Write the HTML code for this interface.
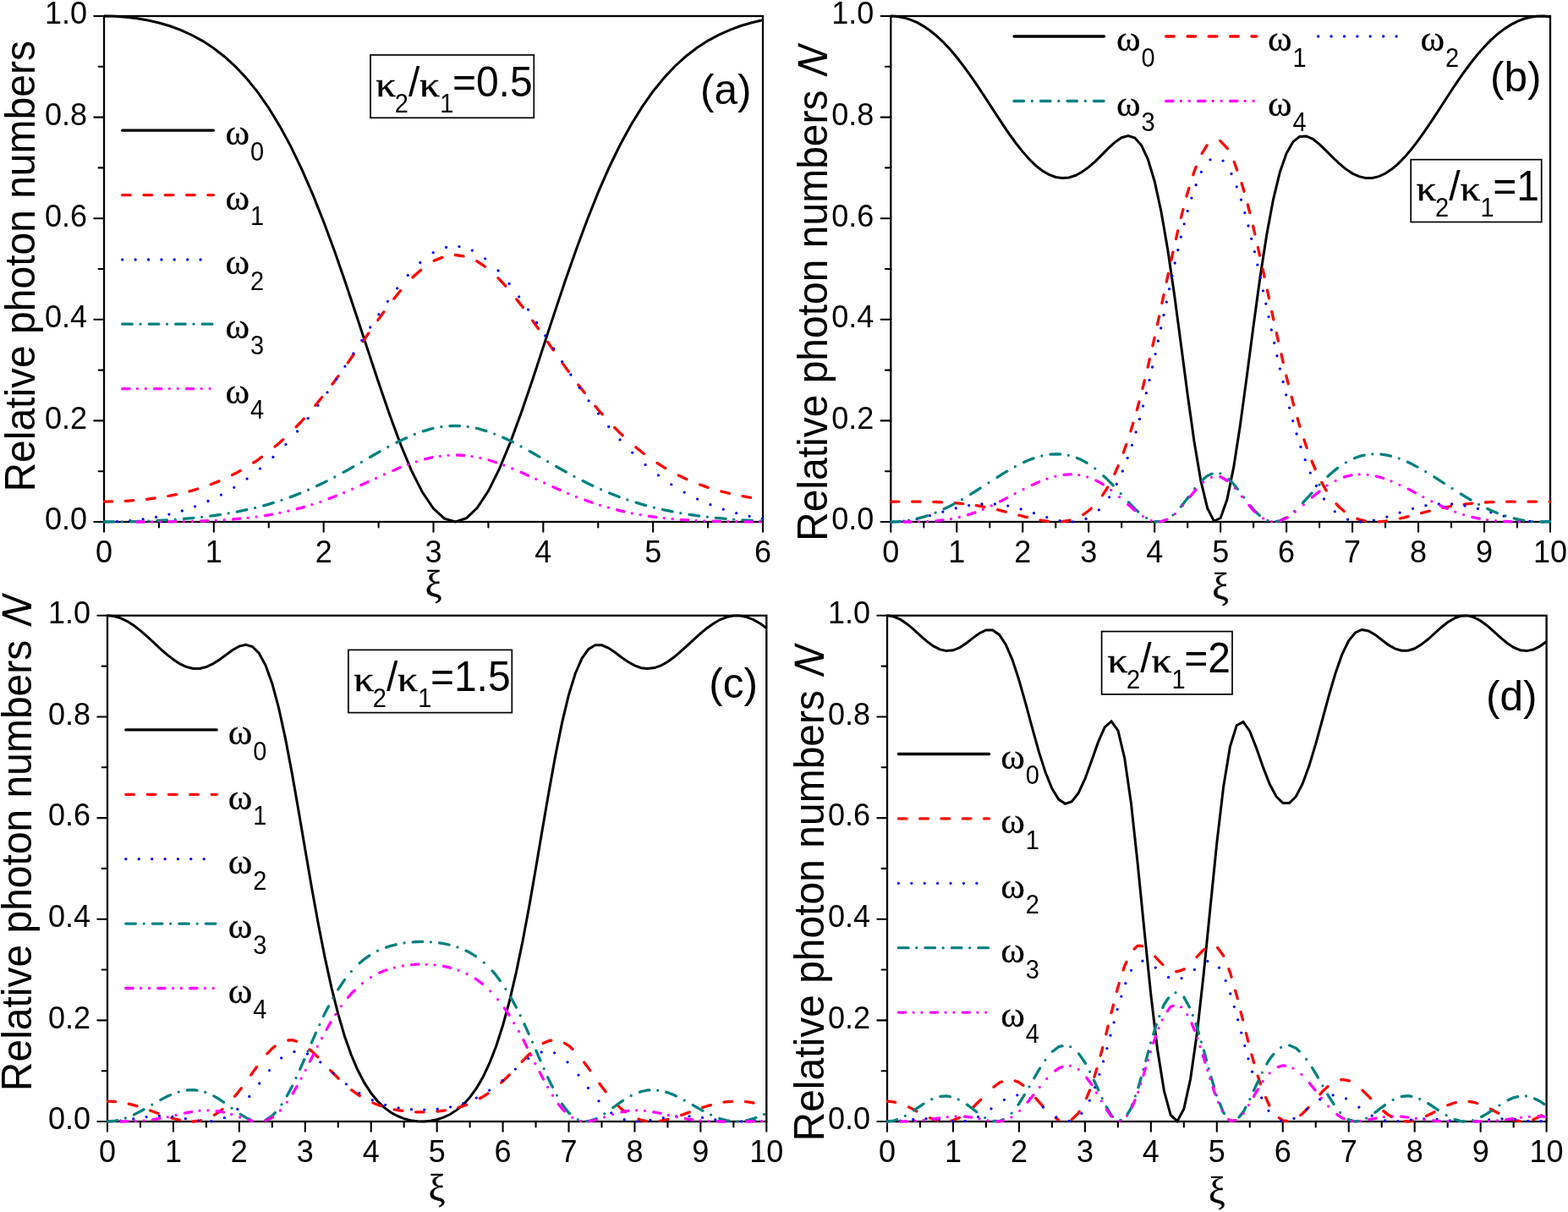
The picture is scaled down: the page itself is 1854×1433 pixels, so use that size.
<!DOCTYPE html>
<html lang="en"><head><meta charset="utf-8"><title>Relative photon numbers</title>
<style>html,body{margin:0;padding:0;background:#fff}body{width:1854px;height:1433px;overflow:hidden}svg{display:block}text{fill:#000}.t{font-family:"Liberation Sans", Arial, Helvetica, sans-serif;font-size:36px}.g{font-family:"Liberation Serif", "Times New Roman", serif}.s{font-family:"Liberation Sans", Arial, Helvetica, sans-serif;font-size:29px}.a{font-family:"Liberation Sans", Arial, Helvetica, sans-serif}.ax{stroke:#000;stroke-width:2.3;fill:none}.tk{stroke:#000;stroke-width:2.1;fill:none;stroke-linecap:round}.c{fill:none;stroke-width:3.3;stroke-linecap:round;stroke-linejoin:round}.k{stroke-width:3;stroke-linejoin:miter;stroke-linecap:butt}</style></head><body>
<svg width="1854" height="1433" viewBox="0 0 1854 1433">
<rect width="1854" height="1433" fill="#fff"/>
<g id="panel-a">
<clipPath id="cpa"><rect x="122" y="17" width="781" height="602"/></clipPath>
<rect class="ax" x="123" y="19" width="779" height="598"/>
<path class="tk" d="M123 617v11.7M187.92 617v6.4M252.83 617v11.7M317.75 617v6.4M382.67 617v11.7M447.58 617v6.4M512.5 617v11.7M577.42 617v6.4M642.33 617v11.7M707.25 617v6.4M772.17 617v11.7M837.08 617v6.4M902 617v11.7M123 617h-11.7M123 557.2h-6.4M123 497.4h-11.7M123 437.6h-6.4M123 377.8h-11.7M123 318h-6.4M123 258.2h-11.7M123 198.4h-6.4M123 138.6h-11.7M123 78.8h-6.4M123 19h-11.7"/>
<text class="t" transform="translate(123 664.7) scale(1 1.04)" text-anchor="middle">0</text>
<text class="t" transform="translate(252.83 664.7) scale(1 1.04)" text-anchor="middle">1</text>
<text class="t" transform="translate(382.67 664.7) scale(1 1.04)" text-anchor="middle">2</text>
<text class="t" transform="translate(512.5 664.7) scale(1 1.04)" text-anchor="middle">3</text>
<text class="t" transform="translate(642.33 664.7) scale(1 1.04)" text-anchor="middle">4</text>
<text class="t" transform="translate(772.17 664.7) scale(1 1.04)" text-anchor="middle">5</text>
<text class="t" transform="translate(902 664.7) scale(1 1.04)" text-anchor="middle">6</text>
<text class="t" transform="translate(103 626.3) scale(1 1.04)" text-anchor="end">0.0</text>
<text class="t" transform="translate(103 506.7) scale(1 1.04)" text-anchor="end">0.2</text>
<text class="t" transform="translate(103 387.1) scale(1 1.04)" text-anchor="end">0.4</text>
<text class="t" transform="translate(103 267.5) scale(1 1.04)" text-anchor="end">0.6</text>
<text class="t" transform="translate(103 147.9) scale(1 1.04)" text-anchor="end">0.8</text>
<text class="t" transform="translate(103 28.3) scale(1 1.04)" text-anchor="end">1.0</text>
<text class="g" x="512.5" y="705" font-size="44" text-anchor="middle" stroke="#000" stroke-width="0.4">ξ</text>
<text class="a" transform="translate(41 581.6) rotate(-90) scale(1 1.04)" font-size="48">Relative photon numbers</text>
<g clip-path="url(#cpa)">
<path class="c k" stroke="#000" d="M123 19L136 19.3L149 20.2L162 21.8L174.9 24L187.9 27L200.9 30.8L213.9 35.6L226.9 41.5L239.9 48.6L252.8 57.1L265.8 67.2L278.8 79.1L291.8 93L304.8 109.1L317.8 127.7L330.7 148.9L343.7 172.9L356.7 199.8L369.7 229.6L382.7 262.2L395.7 297.3L408.6 334.5L421.6 373.4L434.6 412.9L447.6 452.2L460.6 490.1L473.6 525.2L486.5 556.3L499.5 582.1L512.5 601.3L525.5 613.2L538.5 617L551.5 612.6L564.4 600.3L577.4 580.6L590.4 554.5L603.4 523.1L616.4 487.7L629.4 449.7L642.3 410.4L655.3 370.9L668.3 332.1L681.3 295L694.3 260L707.2 227.6L720.2 198L733.2 171.3L746.2 147.5L759.2 126.4L772.2 108L785.2 92L798.1 78.2L811.1 66.5L824.1 56.5L837.1 48.1L850.1 41.1L863.1 35.3L876 30.5L889 26.8L902 23.8"/>
<path class="c" stroke="#f00" d="M123 593.1L132.6 592.9M148.3 592.4L149 592.4L157.8 591.7M173.5 590.3L174.9 590.1L183.1 589M198.8 586.5L200.9 586.1L208.4 584.6M224 580.8L226.9 580.1L233.6 578M249.3 572.7L252.8 571.4L258.9 568.9M274.6 561.6L278.8 559.6L284.2 556.5M299.8 547L304.8 543.8L309.4 540.3M325.1 528.1L330.7 523.4L334.7 519.7M350.2 504.7L356.7 498L359.2 495.1M372.9 479.4L380.7 469.8M392.9 454.2L395.7 450.5L400 444.6M411.3 428.9L418.1 419.3M429.1 403.6L434.6 395.7L435.8 394.1M446.9 378.4L447.6 377.4L453.9 368.8M465.9 353.1L473.6 343.5L473.6 343.5M487.9 328L497.5 319.3M513.2 308.3L522.8 304.4M538.4 301.5L538.5 301.5L548 302.9M563.7 308.8L564.4 309.1L573.3 315.2M589 328.7L590.4 330.1L597.7 338.2M610.8 353.9L616.4 360.9L618.3 363.5M629.8 379.2L636.6 388.7M647.6 404.4L654.3 414M665.3 429.7L668.3 433.9L672.2 439.3M683.8 454.9L691.2 464.5M703.9 480.2L707.2 484.3L712.2 489.8M726.7 505.5L733.2 512.1L736.1 514.8M751.8 528.8L759.2 534.8L761.4 536.5M777.1 547.5L785.2 552.7L786.7 553.5M802.3 562L811.1 566.3L811.9 566.6M827.6 573L837.1 576.4L837.2 576.4M852.9 581L862.4 583.4M878.1 586.6L887.7 588.3"/>
<path class="c" stroke="#00f" d="M123 617h0M138.4 616.6h0M153.8 615.6h0M169.1 613.9h0M184.5 611.4h0M199.9 608.1h0M215.3 604h0M230.6 598.8h0M246 592.5h0M261.4 585.1h0M276.8 576.3h0M292.1 566.1h0M307.5 554.1h0M322.9 540.4h0M337.9 525.4h0M351.6 510h0M364.2 494.7h0M376 479.3h0M387 463.9h0M397.7 448.5h0M407.9 433.2h0M417.9 417.8h0M427.8 402.4h0M437.8 387h0M447.9 371.6h0M458.4 356.3h0M469.7 340.9h0M482.2 325.5h0M496.8 310.4h0M512.2 298.7h0M527.6 292.4h0M543 291.6h0M558.3 296.1h0M573.7 305.8h0M589.1 320h0M602.2 335.4h0M613.7 350.8h0M624.5 366.1h0M634.7 381.5h0M644.8 396.9h0M654.7 412.3h0M664.6 427.6h0M674.8 443h0M685.2 458.4h0M696.1 473.8h0M707.5 489.1h0M719.7 504.5h0M733 519.9h0M747.7 535.2h0M763.1 549.4h0M778.4 561.9h0M793.8 572.8h0M809.2 582.1h0M824.6 590.1h0M840 596.7h0M855.3 602.2h0M870.7 606.7h0M886.1 610.3h0M901.5 613.1h0"/>
<path class="c" stroke="#008080" d="M123 617L134.6 616.9M144.3 616.8h0M154.5 616.6L162 616.5L166 616.3M175.8 616h0M185.9 615.5L187.9 615.4L197.5 614.9M207.2 614.2h0M217.4 613.4L226.9 612.6L228.9 612.4M238.7 611.3h0M248.8 610.1L252.8 609.6L260.4 608.5M270.1 606.9h0M280.3 605.1L291.8 602.7L291.8 602.7M301.6 600.4h0M311.7 597.8L317.8 596.1L323.3 594.4M333 591.3h0M343.2 587.8L343.7 587.6L354.8 583.3M364.5 579.2h0M374.6 574.6L382.7 570.7L386.2 568.9M395.9 564h0M406.1 558.4L408.6 557.1L417.7 551.9M427.4 546.4h0M437.5 540.5L447.6 534.7L449.1 533.9M458.8 528.5h0M469 523.2L473.6 520.9L480.6 517.7M490.3 513.5h0M500.4 509.8L512 506.5M521.8 504.7h0M531.9 503.7L538.5 503.4L543.5 503.7M553.2 504.5h0M563.3 506.3L564.4 506.5L574.9 509.6M584.7 513.1h0M594.8 517.3L603.4 521.3L606.4 522.8M616.1 527.9h0M626.2 533.5L629.4 535.2L637.8 540.1M647.6 545.7h0M657.7 551.5L668.3 557.5L669.3 558M679 563.3h0M689.2 568.5L694.3 571.2L700.7 574.2M710.5 578.7h0M720.6 583L732.2 587.5M741.9 590.9h0M752.1 594.2L759.2 596.4L763.6 597.6M773.4 600.2h0M783.5 602.5L785.2 602.9L795.1 604.9M804.8 606.7h0M815 608.3L824.1 609.7L826.5 610M836.3 611.2h0M846.4 612.3L850.1 612.7L858 613.4M867.7 614.1h0M877.9 614.8L889 615.5L889.5 615.5M899.2 615.9h0"/>
<path class="c" stroke="#f0f" d="M162 617L170.3 617M179.7 616.9h0M189.6 616.9h0M199.8 616.8L200.9 616.8L208.2 616.7M217.5 616.6h0M227.4 616.4h0M237.6 616L239.9 616L246 615.7M255.4 615.3h0M265.2 614.7h0M275.5 614L278.8 613.7L283.9 613.2M293.2 612.3h0M303.1 611.1h0M313.3 609.6L317.8 608.9L321.7 608.2M331 606.4h0M340.9 604.2h0M351.2 601.7L356.7 600.3L359.6 599.4M368.9 596.6h0M378.8 593.3h0M389 589.6L395.7 587L397.4 586.3M406.7 582.5h0M416.6 578.2h0M426.9 573.6L434.6 570L435.2 569.7M444.6 565.4h0M454.5 560.9h0M464.7 556.4L473.1 552.8M482.4 549.2h0M492.3 545.8h0M502.5 542.8L510.9 540.8M520.3 539.3h0M530.1 538.3h0M540.4 538L548.8 538.5M558.1 539.6h0M568 541.5h0M578.2 544L586.6 546.7M595.9 550.1h0M605.8 554h0M616.1 558.4L616.4 558.5L624.5 562.2M633.8 566.4h0M643.7 571h0M653.9 575.7L655.3 576.3L662.3 579.4M671.6 583.4h0M681.5 587.5h0M691.8 591.3L694.3 592.2L700.1 594.2M709.5 597.3h0M719.4 600.2h0M729.6 602.9L733.2 603.8L738 604.9M747.3 606.9h0M757.2 608.7h0M767.4 610.3L772.2 611L775.8 611.4M785.2 612.6h0M795.1 613.5h0M805.3 614.3L811.1 614.8L813.7 614.9M823 615.4h0M832.9 615.8h0M843.1 616.2L850.1 616.4L851.5 616.4M860.9 616.6h0M870.7 616.7h0M881 616.8L889 616.9L889.4 616.9M898.7 617h0"/>
</g>
<path class="c" stroke="#000" d="M144.7 154.2H252.3"/>
<text class="g" transform="translate(266.5 171.4) scale(1.08 1.03)" font-size="40.3" stroke="#000" stroke-width="0.25">ω</text>
<text class="s" transform="translate(296 190) scale(1 1.07)">0</text>
<path class="c" stroke="#f00" d="M144.7 230.6L154.2 230.6M170 230.6L179.6 230.6M195.2 230.6L204.9 230.6M220.6 230.6L230.2 230.6M245.9 230.6L252.3 230.6"/>
<text class="g" transform="translate(266.5 247.8) scale(1.08 1.03)" font-size="40.3" stroke="#000" stroke-width="0.25">ω</text>
<text class="s" transform="translate(296 266.4) scale(1 1.07)">1</text>
<path class="c" stroke="#00f" d="M144.7 307h0M160.1 307h0M175.5 307h0M190.9 307h0M206.2 307h0M221.7 307h0M237.1 307h0"/>
<text class="g" transform="translate(266.5 324.2) scale(1.08 1.03)" font-size="40.3" stroke="#000" stroke-width="0.25">ω</text>
<text class="s" transform="translate(296 342.8) scale(1 1.07)">2</text>
<path class="c" stroke="#008080" d="M144.7 383.2L156.2 383.2M166 383.2h0M176.2 383.2L187.8 383.2M197.5 383.2h0M207.7 383.2L219.2 383.2M229 383.2h0M239.2 383.2L250.8 383.2"/>
<text class="g" transform="translate(266.5 400.4) scale(1.08 1.03)" font-size="40.3" stroke="#000" stroke-width="0.25">ω</text>
<text class="s" transform="translate(296 419) scale(1 1.07)">3</text>
<path class="c" stroke="#f0f" d="M144.7 459.6L153.1 459.6M162.4 459.6h0M172.3 459.6h0M182.6 459.6L190.9 459.6M200.3 459.6h0M210.2 459.6h0M220.4 459.6L228.8 459.6M238.2 459.6h0M248.1 459.6h0"/>
<text class="g" transform="translate(266.5 476.8) scale(1.08 1.03)" font-size="40.3" stroke="#000" stroke-width="0.25">ω</text>
<text class="s" transform="translate(296 495.4) scale(1 1.07)">4</text>
<rect x="438" y="65" width="193.3" height="74.3" fill="#fff" stroke="#000" stroke-width="1.7"/>
<text class="g" transform="translate(444.3 113.7) scale(1.13 1)" font-size="42.3" stroke="#000" stroke-width="0.5">κ</text>
<text class="s" transform="translate(466.8 132.6) scale(1 1.07)">2</text>
<text class="a" transform="translate(482.9 113.7) scale(1 1.04)" font-size="48">/</text>
<text class="g" transform="translate(496.1 113.7) scale(1.13 1)" font-size="42.3" stroke="#000" stroke-width="0.5">κ</text>
<text class="s" transform="translate(520.2 132.6) scale(1 1.07)">1</text>
<text class="a" transform="translate(534.9 113.7) scale(1 1.04)" font-size="48">=0.5</text>
<text class="a" transform="translate(828 122.7) scale(1 1.01)" font-size="49.5">(a)</text>
</g>
<g id="panel-b">
<clipPath id="cpb"><rect x="1052.3" y="17" width="781.7" height="602"/></clipPath>
<rect class="ax" x="1053.3" y="19" width="779.7" height="598"/>
<path class="tk" d="M1053.3 617v11.7M1092.28 617v6.4M1131.27 617v11.7M1170.25 617v6.4M1209.24 617v11.7M1248.22 617v6.4M1287.21 617v11.7M1326.19 617v6.4M1365.18 617v11.7M1404.16 617v6.4M1443.15 617v11.7M1482.13 617v6.4M1521.12 617v11.7M1560.11 617v6.4M1599.09 617v11.7M1638.07 617v6.4M1677.06 617v11.7M1716.05 617v6.4M1755.03 617v11.7M1794.01 617v6.4M1833 617v11.7M1053.3 617h-11.7M1053.3 557.2h-6.4M1053.3 497.4h-11.7M1053.3 437.6h-6.4M1053.3 377.8h-11.7M1053.3 318h-6.4M1053.3 258.2h-11.7M1053.3 198.4h-6.4M1053.3 138.6h-11.7M1053.3 78.8h-6.4M1053.3 19h-11.7"/>
<text class="t" transform="translate(1053.3 664.7) scale(1 1.04)" text-anchor="middle">0</text>
<text class="t" transform="translate(1131.27 664.7) scale(1 1.04)" text-anchor="middle">1</text>
<text class="t" transform="translate(1209.24 664.7) scale(1 1.04)" text-anchor="middle">2</text>
<text class="t" transform="translate(1287.21 664.7) scale(1 1.04)" text-anchor="middle">3</text>
<text class="t" transform="translate(1365.18 664.7) scale(1 1.04)" text-anchor="middle">4</text>
<text class="t" transform="translate(1443.15 664.7) scale(1 1.04)" text-anchor="middle">5</text>
<text class="t" transform="translate(1521.12 664.7) scale(1 1.04)" text-anchor="middle">6</text>
<text class="t" transform="translate(1599.09 664.7) scale(1 1.04)" text-anchor="middle">7</text>
<text class="t" transform="translate(1677.06 664.7) scale(1 1.04)" text-anchor="middle">8</text>
<text class="t" transform="translate(1755.03 664.7) scale(1 1.04)" text-anchor="middle">9</text>
<text class="t" transform="translate(1833 664.7) scale(1 1.04)" text-anchor="middle">10</text>
<text class="t" transform="translate(1033.3 626.3) scale(1 1.04)" text-anchor="end">0.0</text>
<text class="t" transform="translate(1033.3 506.7) scale(1 1.04)" text-anchor="end">0.2</text>
<text class="t" transform="translate(1033.3 387.1) scale(1 1.04)" text-anchor="end">0.4</text>
<text class="t" transform="translate(1033.3 267.5) scale(1 1.04)" text-anchor="end">0.6</text>
<text class="t" transform="translate(1033.3 147.9) scale(1 1.04)" text-anchor="end">0.8</text>
<text class="t" transform="translate(1033.3 28.3) scale(1 1.04)" text-anchor="end">1.0</text>
<text class="g" x="1443.15" y="708.1" font-size="44" text-anchor="middle" stroke="#000" stroke-width="0.4">ξ</text>
<text class="a" transform="translate(977.5 640) rotate(-90) scale(1 1.04)" font-size="48">Relative photon numbers</text>
<text class="a" transform="translate(977.5 94.7) rotate(-90) skewX(-21) scale(1 1.04)" font-size="48">N</text>
<g clip-path="url(#cpb)">
<path class="c k" stroke="#000" d="M1053.3 19L1061.1 19.5L1068.9 20.9L1076.7 23.3L1084.5 26.7L1092.3 31.1L1100.1 36.5L1107.9 42.9L1115.7 50.2L1123.5 58.6L1131.3 67.8L1139.1 77.9L1146.9 88.6L1154.7 99.9L1162.5 111.7L1170.3 123.6L1178.1 135.6L1185.8 147.4L1193.6 158.8L1201.4 169.5L1209.2 179.4L1217 188.2L1224.8 195.8L1232.6 202L1240.4 206.5L1248.2 209.5L1256 210.6L1263.8 209.9L1271.6 207.5L1279.4 203.3L1287.2 197.7L1295 190.8L1302.8 183.1L1310.6 175.2L1318.4 168.1L1326.2 162.7L1334 160.5L1341.8 163L1349.6 171.8L1357.4 188.6L1365.2 214.5L1373 250.3L1380.8 295.6L1388.6 348.8L1396.4 407.2L1404.2 466.5L1412 521.9L1419.8 568.2L1427.6 600.7L1435.4 616.1L1443.2 612.5L1450.9 590.5L1458.7 552.4L1466.5 502.1L1474.3 444.6L1482.1 385.1L1489.9 328.2L1497.7 277.7L1505.5 235.8L1513.3 203.7L1521.1 181.3L1528.9 167.7L1536.7 161.4L1544.5 160.9L1552.3 164.4L1560.1 170.6L1567.9 178.1L1575.7 186L1583.5 193.4L1591.3 199.9L1599.1 205.1L1606.9 208.6L1614.7 210.4L1622.5 210.4L1630.3 208.6L1638.1 205L1645.9 199.8L1653.7 193.1L1661.5 185.1L1669.3 175.8L1677.1 165.6L1684.9 154.6L1692.7 143.1L1700.5 131.2L1708.2 119.2L1716 107.3L1723.8 95.7L1731.6 84.5L1739.4 74L1747.2 64.3L1755 55.4L1762.8 47.4L1770.6 40.4L1778.4 34.4L1786.2 29.4L1794 25.3L1801.8 22.3L1809.6 20.3L1817.4 19.2L1825.2 19.1L1833 19.9"/>
<path class="c" stroke="#f00" d="M1053.3 593.1L1061.1 593.1L1062.9 593.1M1078.6 593.1L1084.5 593.1L1088.1 593.2M1103.8 593.4L1107.9 593.5L1113.4 593.8M1129.1 594.7L1131.3 594.9L1138.7 595.6M1154.3 597.7L1154.7 597.7L1162.5 599.1L1163.9 599.4M1179.6 602.7L1185.8 604.3L1189.2 605.1M1204.9 609.2L1209.2 610.3L1214.5 611.6M1230.1 615L1232.6 615.5L1239.7 616.4M1255.4 616.7L1256 616.7L1263.8 615.5L1265 615.1M1280.7 608.5L1287.2 604L1290.2 601.1M1303.6 585.7L1309.7 576.1M1317.9 560.4L1318.4 559.5L1322.1 550.8M1328.3 535.1L1331.7 525.6M1336.9 509.9L1339.8 500.3M1344.3 484.6L1346.9 475M1351 459.4L1353.3 449.8M1357.2 434.1L1357.4 433.2L1359.3 424.5M1362.9 408.8L1365.1 399.3M1368.5 383.6L1370.6 374M1373.9 358.3L1376 348.7M1379.3 333.1L1380.8 326.3L1381.4 323.5M1384.8 307.8L1386.9 298.2M1390.5 282.5L1392.7 272.9M1396.4 257.3L1398.9 247.7M1403 232L1404.2 227.8L1405.8 222.4M1410.8 206.7L1412 202.9L1414.3 197.2M1421.2 181.5L1427.1 171.9M1442.6 166.7L1443.2 166.8L1450.9 175.1L1451.3 175.8M1459.2 191.5L1462.7 201.1M1468.1 216.7L1470.9 226.3M1475.3 242L1477.7 251.6M1481.6 267.3L1482.1 269.5L1483.8 276.9M1487.4 292.5L1489.5 302.1M1493 317.8L1495 327.4M1498.4 343.1L1500.5 352.6M1503.8 368.3L1505.5 376.3L1505.9 377.9M1509.3 393.6L1511.4 403.2M1515 418.8L1517.2 428.4M1520.8 444.1L1521.1 445.4L1523.2 453.7M1527.2 469.4L1528.9 476.2L1529.7 479M1534.1 494.6L1536.7 503.7L1536.9 504.2M1542 519.9L1544.5 527.7L1545.2 529.5M1551.1 545.2L1552.3 548.3L1555.2 554.7M1562.8 570.4L1567.9 579.6L1568.2 580M1580 595.7L1583.5 599.6L1589.2 604.4M1604.9 613.3L1606.9 614.2L1614.4 616M1630.1 616.9L1630.3 616.9L1638.1 616.2L1639.7 616M1655.4 613L1661.5 611.6L1665 610.7M1680.6 606.6L1684.9 605.5L1690.2 604.1M1705.9 600.5L1708.2 600L1715.5 598.7M1731.2 596.3L1731.6 596.2L1739.4 595.3L1740.8 595.2M1756.4 594L1762.8 593.7L1766 593.6M1781.7 593.2L1786.2 593.2L1791.3 593.1M1807 593.1L1809.6 593.1L1816.5 593.1M1832.2 593.1L1833 593.1"/>
<path class="c" stroke="#00f" d="M1053.3 617h0M1068.7 616.1h0M1084.1 613.5h0M1099.4 609.6h0M1114.8 605.2h0M1130.2 600.9h0M1145.6 597.6h0M1160.9 595.9h0M1176.3 596h0M1191.7 598.1h0M1207.1 601.9h0M1222.4 606.7h0M1237.8 611.7h0M1253.2 615.6h0M1268.6 616.8h0M1284 613.4h0M1299.3 602.9h0M1311.7 587.8h0M1320.3 572.4h0M1327.3 557h0M1333.2 541.6h0M1338.4 526.3h0M1343.1 510.9h0M1347.5 495.5h0M1351.5 480.1h0M1355.4 464.7h0M1359.1 449.4h0M1362.6 434h0M1366.1 418.6h0M1369.4 403.2h0M1372.7 387.9h0M1376 372.5h0M1379.3 357.1h0M1382.6 341.7h0M1385.9 326.4h0M1389.2 311h0M1392.8 295.6h0M1396.3 280.2h0M1400.2 264.8h0M1404.2 249.5h0M1408.9 234.1h0M1414.1 218.7h0M1420.4 203.3h0M1431 188.8h0M1446.1 190.1h0M1456 205.5h0M1462.2 220.8h0M1467.5 236.2h0M1471.8 251.6h0M1476 267h0M1479.7 282.3h0M1483.4 297.7h0M1486.8 313.1h0M1490.2 328.5h0M1493.5 343.8h0M1496.8 359.2h0M1500.1 374.6h0M1503.3 390h0M1506.7 405.4h0M1510 420.7h0M1513.4 436.1h0M1517.1 451.5h0M1520.7 466.9h0M1524.6 482.2h0M1528.6 497.6h0M1533.1 513h0M1537.9 528.4h0M1543.2 543.7h0M1549.3 559.1h0M1556.4 574.5h0M1565.4 589.9h0M1578.3 604.8h0M1593.6 614.2h0M1609 616.9h0M1624.4 615.2h0M1639.8 611.1h0M1655.1 606.1h0M1670.5 601.3h0M1685.9 597.7h0M1701.3 595.9h0M1716.6 596h0M1732 598h0M1747.4 601.4h0M1762.8 605.8h0M1778.2 610.2h0M1793.5 613.9h0M1808.9 616.3h0M1824.3 617h0"/>
<path class="c" stroke="#008080" d="M1053.3 617L1061.1 616.8L1064.9 616.4M1074.6 615.2h0M1084.8 613.1L1092.3 611.1L1096.3 609.7M1106.1 606.2h0M1116.2 601.8L1123.5 598.2L1127.8 595.9M1137.5 590.5h0M1147.7 584.4L1154.7 580L1159.2 577.1M1169 570.8h0M1179.1 564.3L1185.8 560.1L1190.7 557.2M1200.4 551.7h0M1210.6 546.6L1217 543.8L1222.1 541.9M1231.9 539h0M1242 537.2L1248.2 536.8L1253.6 537M1263.3 538.3h0M1273.5 541.5L1279.4 544.1L1285.1 547.3M1294.8 553.9h0M1304.9 562.7L1310.6 568.1L1316.3 574M1325.2 583.7h0M1334.5 593.8L1341.8 601.4L1345.8 605M1355.6 612.4h0M1365.7 616.6L1373 616.7L1377.3 615M1387 608.8h0M1396.4 599L1404.2 588.9L1405.3 587.4M1412.7 577.7h0M1421.5 567.8L1427.6 562.5L1433 560.2M1442.8 559.9h0M1452.9 566.6L1458.7 572.4L1463.3 578.2M1470.7 587.9h0M1478.6 598L1482.1 602.4L1489.3 609.5M1499 615.4h0M1509.2 616.4L1513.3 615.8L1520.8 612.1M1530.5 604.4h0M1540.4 594.6L1544.5 590.1L1551 583M1560 573.2h0M1570 563.3L1575.7 558.1L1581.6 553.4M1591.3 546.8h0M1601.5 541.8L1606.9 539.7L1613 538.2M1622.8 536.9h0M1632.9 537.2L1638.1 537.8L1644.5 539.2M1654.2 542.1h0M1664.4 546.3L1669.3 548.6L1675.9 552.1M1685.7 557.7h0M1695.8 563.9L1700.5 566.8L1707.4 571.3M1717.1 577.6h0M1727.3 584L1731.6 586.7L1738.9 591M1748.6 596.4h0M1758.7 601.4L1762.8 603.4L1770.3 606.5M1780 610h0M1790.2 612.9L1794 613.9L1801.8 615.3M1811.5 616.5h0M1821.6 616.9L1825.2 617L1833 616.5"/>
<path class="c" stroke="#f0f" d="M1068.9 617L1076.7 617L1077.3 616.9M1086.6 616.8h0M1096.5 616.5h0M1106.7 615.8L1107.9 615.7L1115.1 614.9M1124.5 613.5h0M1134.3 611.5h0M1144.6 608.7L1146.9 608L1153 605.9M1162.3 602.3h0M1172.2 597.9h0M1182.4 592.9L1185.8 591.2L1190.8 588.6M1200.1 583.7h0M1210 578.5h0M1220.3 573.5L1224.8 571.4L1228.7 569.8M1238 566.2h0M1247.9 563.2h0M1258.1 561.4L1263.8 560.9L1266.5 560.9M1275.8 561.7h0M1285.7 563.9h0M1296 568.1L1302.8 571.8L1304.3 572.9M1313.7 579.5h0M1323.6 587.6h0M1333.8 596.6L1334 596.7L1341.8 603.5L1342.2 603.8M1351.5 610.6h0M1361.4 615.4h0M1371.6 616.7L1373 616.7L1380 614.2M1389.4 607.6h0M1398.6 597.7h0M1407 587.5L1412 581.3L1413.9 579.1M1422.6 570.2h0M1432.5 564.3h0M1442.7 563.8L1443.2 563.8L1450.9 568.2L1451.1 568.4M1460.2 577.3h0M1468.4 587.2h0M1476.8 597.4L1482.1 603.6L1484.3 605.6M1493.7 612.9h0M1503.5 616.6h0M1513.8 615.7L1521.1 612.5L1522.2 611.8M1531.5 605.2h0M1541.4 596.9h0M1551.6 587.9L1552.3 587.3L1560 580.9M1569.3 574.1h0M1579.2 568.4h0M1589.5 564.1L1591.3 563.4L1597.9 561.9M1607.2 560.9h0M1617.1 561.3h0M1627.3 563.1L1630.3 563.8L1635.7 565.5M1645 568.9h0M1654.9 573.3h0M1665.2 578.3L1669.3 580.4L1673.5 582.7M1682.9 587.6h0M1692.8 592.8h0M1703 597.7L1708.2 600.2L1711.4 601.5M1720.7 605.2h0M1730.6 608.6h0M1740.8 611.4L1747.2 612.8L1749.2 613.2M1758.6 614.7h0M1768.5 615.7h0M1778.7 616.5L1786.2 616.7L1787.1 616.8M1796.4 616.9h0"/>
</g>
<path class="c" stroke="#000" d="M1199 43H1305.6"/>
<text class="g" transform="translate(1320 60.2) scale(1.08 1.03)" font-size="40.3" stroke="#000" stroke-width="0.25">ω</text>
<text class="s" transform="translate(1349.5 78.8) scale(1 1.07)">0</text>
<path class="c" stroke="#f00" d="M1378.7 43L1388.2 43M1404 43L1413.6 43M1429.2 43L1438.9 43M1454.6 43L1464.2 43M1479.9 43L1485.8 43"/>
<text class="g" transform="translate(1499 60.2) scale(1.08 1.03)" font-size="40.3" stroke="#000" stroke-width="0.25">ω</text>
<text class="s" transform="translate(1528.5 78.8) scale(1 1.07)">1</text>
<path class="c" stroke="#00f" d="M1558.7 43h0M1574.1 43h0M1589.5 43h0M1604.9 43h0M1620.2 43h0M1635.7 43h0M1651.1 43h0"/>
<text class="g" transform="translate(1679.5 60.2) scale(1.08 1.03)" font-size="40.3" stroke="#000" stroke-width="0.25">ω</text>
<text class="s" transform="translate(1709 78.8) scale(1 1.07)">2</text>
<path class="c" stroke="#008080" d="M1199 119.5L1210.5 119.5M1220.3 119.5h0M1230.5 119.5L1242 119.5M1251.8 119.5h0M1262 119.5L1273.5 119.5M1283.3 119.5h0M1293.5 119.5L1305 119.5"/>
<text class="g" transform="translate(1320 136.7) scale(1.08 1.03)" font-size="40.3" stroke="#000" stroke-width="0.25">ω</text>
<text class="s" transform="translate(1349.5 155.3) scale(1 1.07)">3</text>
<path class="c" stroke="#f0f" d="M1378.7 119.5L1387.1 119.5M1396.4 119.5h0M1406.3 119.5h0M1416.6 119.5L1425 119.5M1434.3 119.5h0M1444.2 119.5h0M1454.5 119.5L1462.9 119.5M1472.2 119.5h0M1482.1 119.5h0"/>
<text class="g" transform="translate(1499 136.7) scale(1.08 1.03)" font-size="40.3" stroke="#000" stroke-width="0.25">ω</text>
<text class="s" transform="translate(1528.5 155.3) scale(1 1.07)">4</text>
<rect x="1668.2" y="188.7" width="154.5" height="73.8" fill="#fff" stroke="#000" stroke-width="1.7"/>
<text class="g" transform="translate(1674.6 237) scale(1.13 1)" font-size="42.3" stroke="#000" stroke-width="0.5">κ</text>
<text class="s" transform="translate(1697.1 255.9) scale(1 1.07)">2</text>
<text class="a" transform="translate(1713.2 237) scale(1 1.04)" font-size="48">/</text>
<text class="g" transform="translate(1726.4 237) scale(1.13 1)" font-size="42.3" stroke="#000" stroke-width="0.5">κ</text>
<text class="s" transform="translate(1750.5 255.9) scale(1 1.07)">1</text>
<text class="a" transform="translate(1765.2 237) scale(1 1.04)" font-size="48">=1</text>
<text class="a" transform="translate(1762.1 107.6) scale(1 1.01)" font-size="49.5">(b)</text>
</g>
<g id="panel-c">
<clipPath id="cpc"><rect x="126" y="725.8" width="781.3" height="602.2"/></clipPath>
<rect class="ax" x="127" y="727.8" width="779.3" height="598.2"/>
<path class="tk" d="M127 1326v11.7M165.97 1326v6.4M204.93 1326v11.7M243.89 1326v6.4M282.86 1326v11.7M321.82 1326v6.4M360.79 1326v11.7M399.75 1326v6.4M438.72 1326v11.7M477.68 1326v6.4M516.65 1326v11.7M555.62 1326v6.4M594.58 1326v11.7M633.54 1326v6.4M672.51 1326v11.7M711.47 1326v6.4M750.44 1326v11.7M789.4 1326v6.4M828.37 1326v11.7M867.33 1326v6.4M906.3 1326v11.7M127 1326h-11.7M127 1266.18h-6.4M127 1206.36h-11.7M127 1146.54h-6.4M127 1086.72h-11.7M127 1026.9h-6.4M127 967.08h-11.7M127 907.26h-6.4M127 847.44h-11.7M127 787.62h-6.4M127 727.8h-11.7"/>
<text class="t" transform="translate(127 1373.7) scale(1 1.04)" text-anchor="middle">0</text>
<text class="t" transform="translate(204.93 1373.7) scale(1 1.04)" text-anchor="middle">1</text>
<text class="t" transform="translate(282.86 1373.7) scale(1 1.04)" text-anchor="middle">2</text>
<text class="t" transform="translate(360.79 1373.7) scale(1 1.04)" text-anchor="middle">3</text>
<text class="t" transform="translate(438.72 1373.7) scale(1 1.04)" text-anchor="middle">4</text>
<text class="t" transform="translate(516.65 1373.7) scale(1 1.04)" text-anchor="middle">5</text>
<text class="t" transform="translate(594.58 1373.7) scale(1 1.04)" text-anchor="middle">6</text>
<text class="t" transform="translate(672.51 1373.7) scale(1 1.04)" text-anchor="middle">7</text>
<text class="t" transform="translate(750.44 1373.7) scale(1 1.04)" text-anchor="middle">8</text>
<text class="t" transform="translate(828.37 1373.7) scale(1 1.04)" text-anchor="middle">9</text>
<text class="t" transform="translate(906.3 1373.7) scale(1 1.04)" text-anchor="middle">10</text>
<text class="t" transform="translate(107 1335.3) scale(1 1.04)" text-anchor="end">0.0</text>
<text class="t" transform="translate(107 1215.66) scale(1 1.04)" text-anchor="end">0.2</text>
<text class="t" transform="translate(107 1096.02) scale(1 1.04)" text-anchor="end">0.4</text>
<text class="t" transform="translate(107 976.38) scale(1 1.04)" text-anchor="end">0.6</text>
<text class="t" transform="translate(107 856.74) scale(1 1.04)" text-anchor="end">0.8</text>
<text class="t" transform="translate(107 737.1) scale(1 1.04)" text-anchor="end">1.0</text>
<text class="g" x="516.65" y="1418.8" font-size="44" text-anchor="middle" stroke="#000" stroke-width="0.4">ξ</text>
<text class="a" transform="translate(37.3 1290.2) rotate(-90) scale(1 1.04)" font-size="48">Relative photon numbers</text>
<text class="a" transform="translate(37.3 744.9) rotate(-90) skewX(-21) scale(1 1.04)" font-size="48">N</text>
<g clip-path="url(#cpc)">
<path class="c k" stroke="#000" d="M127 727.8L134.8 728.6L142.6 730.9L150.4 734.6L158.2 739.6L166 745.6L173.8 752.3L181.6 759.5L189.3 766.8L197.1 773.7L204.9 779.8L212.7 784.9L220.5 788.5L228.3 790.4L236.1 790.4L243.9 788.5L251.7 784.9L259.5 779.9L267.3 774.2L275.1 768.5L282.9 764.1L290.7 762.3L298.4 764.5L306.2 772.2L314 786.5L321.8 808.2L329.6 837.2L337.4 872.9L345.2 913.9L353 958.4L360.8 1004.3L368.6 1049.7L376.4 1092.8L384.2 1132.4L392 1167.9L399.8 1198.8L407.5 1225.2L415.3 1247.3L423.1 1265.5L430.9 1280.4L438.7 1292.4L446.5 1302L454.3 1309.4L462.1 1315.2L469.9 1319.5L477.7 1322.6L485.5 1324.7L493.3 1325.8L501.1 1326L508.9 1325.3L516.6 1323.7L524.4 1321.2L532.2 1317.5L540 1312.4L547.8 1305.9L555.6 1297.4L563.4 1286.6L571.2 1273.2L579 1256.7L586.8 1236.5L594.6 1212.2L602.4 1183.6L610.2 1150.4L618 1112.7L625.8 1071.2L633.5 1026.7L641.3 980.8L649.1 935.4L656.9 892.4L664.7 853.9L672.5 821.5L680.3 796.2L688.1 778.3L695.9 767.5L703.7 762.8L711.5 762.8L719.3 766.1L727.1 771.3L734.9 777.2L742.6 782.6L750.4 786.9L758.2 789.7L766 790.6L773.8 789.6L781.6 786.8L789.4 782.5L797.2 776.8L805 770.2L812.8 763.1L820.6 755.8L828.4 748.8L836.2 742.4L844 736.9L851.7 732.5L859.5 729.5L867.3 728L875.1 728L882.9 729.6L890.7 732.6L898.5 737L906.3 742.5"/>
<path class="c" stroke="#f00" d="M127 1302.1L134.8 1302.4L136.6 1302.6M152.3 1305.2L158.2 1306.6L161.8 1307.7M177.5 1313L181.6 1314.5L187.1 1316.5M202.8 1321.9L204.9 1322.5L212.4 1324.4M228 1326L228.3 1326L236.1 1325.2L237.6 1324.7M253.3 1318.4L259.5 1314.3L262.9 1311.4M277.6 1296.3L282.9 1289.9L285.2 1286.7M296.6 1271.1L298.4 1268.5L303.5 1261.5M315.9 1245.8L321.8 1239.6L325.2 1237M340.8 1230L345.2 1229.7L350.4 1231.2M366.1 1240.9L368.6 1242.9L375.7 1249.8M390.7 1265.5L392 1266.9L399.8 1274.7L400.1 1275M415.8 1288.8L423.1 1294.1L425.3 1295.5M441 1303.9L446.5 1306.2L450.6 1307.6M466.3 1311.8L469.9 1312.5L475.9 1313.4M491.5 1314.8L493.3 1314.8L501.1 1314.9L501.1 1314.9M516.8 1314.1L524.4 1313.1L526.4 1312.8M542.1 1309.3L547.8 1307.6L551.7 1306.2M567.3 1298.8L571.2 1296.6L576.9 1292.8M592.6 1280.1L594.6 1278.4L602.2 1271M617.2 1255.3L618 1254.4L625.8 1246.5L626.6 1245.8M642.2 1233.5L649.1 1230.5L651.8 1230.2M667.5 1233.3L672.5 1236.3L677.1 1240.5M690.6 1256L695.9 1263.1L697.6 1265.6M708.9 1281.2L711.5 1284.8L716.1 1290.8M729.8 1306.4L734.9 1311.2L739.4 1314.7M755 1323.1L758.2 1324.3L764.6 1325.5M780.3 1325.3L781.6 1325.2L789.4 1323.6L789.9 1323.4M805.6 1318.5L812.8 1315.9L815.2 1315M830.8 1309.4L836.2 1307.7L840.4 1306.6M856.1 1303.2L859.5 1302.7L865.7 1302.3M881.4 1302.6L882.9 1302.7L890.7 1303.9L890.9 1304"/>
<path class="c" stroke="#00f" d="M127 1326h0M142.4 1325.1h0M157.8 1322.9h0M173.1 1320.6h0M188.5 1319.5h0M203.9 1320.3h0M219.3 1322.7h0M234.6 1325.2h0M250 1325.7h0M265.4 1321.7h0M280.8 1311.4h0M294.8 1296.4h0M306.7 1281h0M318.5 1265.6h0M332.7 1250.9h0M348 1243.5h0M363.4 1246h0M378.8 1255.8h0M394.2 1268.9h0M409.5 1281.8h0M424.9 1292.5h0M440.3 1300.7h0M455.7 1306.3h0M471.1 1309.8h0M486.4 1311.7h0M501.8 1312.1h0M517.2 1311.2h0M532.6 1308.8h0M547.9 1304.6h0M563.3 1298.1h0M578.7 1289.1h0M594.1 1277.4h0M609.4 1264.1h0M624.8 1251.6h0M640.2 1243.9h0M655.6 1244.8h0M671 1255.8h0M684 1271.1h0M695.5 1286.4h0M708 1301.8h0M722.8 1315.8h0M738.2 1323.7h0M753.6 1325.9h0M769 1324.4h0M784.3 1321.7h0M799.7 1319.9h0M815.1 1319.8h0M830.5 1321.4h0M845.8 1323.8h0M861.2 1325.6h0M876.6 1325.8h0M892 1324.4h0"/>
<path class="c" stroke="#008080" d="M127 1326L134.8 1325.5L138.6 1324.7M148.3 1322h0M158.5 1317.9L166 1314L170 1311.7M179.8 1306.1h0M189.9 1300.4L197.1 1296.6L201.5 1294.7M211.2 1291.1h0M221.4 1289L228.3 1288.6L232.9 1289.2M242.7 1291.4h0M252.8 1295.9L259.5 1299.8L264.4 1303.2M274.1 1310.2h0M284.3 1317.4L290.7 1321.4L295.8 1323.7M314 1324.3L321.8 1319.4L325.3 1315.6M333 1305.9h0M339.3 1295.7L345.2 1284.8L345.5 1284.1M350.1 1274.4h0M354.7 1264.3L359.8 1252.7M364 1243h0M368.4 1232.8L368.6 1232.3L373.5 1221.2M377.9 1211.5h0M382.6 1201.4L384.2 1198.1L388.5 1189.8M393.7 1180.1h0M399.7 1169.9L399.8 1169.8L407.5 1158.3L407.6 1158.3M415.4 1148.6h0M425.2 1138.8L430.9 1133.9L436.8 1129.9M446.5 1124.2h0M456.7 1120.1L462.1 1118.3L468.2 1116.8M478 1114.9h0M488.1 1113.8L493.3 1113.5L499.7 1113.4M509.4 1113.8h0M519.6 1114.9L524.4 1115.6L531.1 1117M540.9 1119.9h0M551 1124.1L555.6 1126.3L562.6 1130.6M572.3 1138.2h0M582 1147.9L586.8 1153.4L591.3 1159.5M597.9 1169.3h0M604 1179.4L610.2 1190.6L610.4 1191M615.2 1200.7h0M620 1210.8L625.2 1222.4M629.5 1232.2h0M633.9 1242.3L638.9 1253.9M643.2 1263.6h0M647.7 1273.8L649.1 1276.9L653.4 1285.3M658.5 1295.1h0M664.5 1305.2L664.7 1305.6L672.5 1315.7L673.6 1316.6M683.3 1323.6h0M693.5 1325.7L695.9 1325.7L703.7 1323.3L705 1322.6M714.8 1316.8h0M724.9 1309.6L727.1 1308L734.9 1302.4L736.5 1301.3M746.2 1295.5h0M756.4 1291.2L758.2 1290.5L766 1288.9L768 1288.9M777.7 1289.2h0M787.8 1291.3L789.4 1291.8L797.2 1294.8L799.4 1295.9M809.1 1300.9h0M819.3 1306.7L820.6 1307.4L828.4 1311.9L830.9 1313.3M840.6 1318.2h0M850.7 1322.4L851.7 1322.8L859.5 1324.8L862.3 1325.2M872 1325.9h0M882.2 1324.9L882.9 1324.8L890.7 1322.7L893.8 1321.5M903.5 1317.4h0"/>
<path class="c" stroke="#f0f" d="M142.6 1326L150.4 1325.9L151 1325.9M160.3 1325.6h0M170.2 1324.9h0M180.4 1323.8L181.6 1323.7L188.8 1322.5M198.2 1320.7h0M208 1318.5h0M218.3 1316.2L220.5 1315.7L226.7 1314.6M236 1313.2h0M245.9 1312.8h0M256.1 1313.6L259.5 1314L264.5 1315.1M273.8 1317.7h0M283.7 1321h0M294 1324.1L298.4 1325.3M314 1324.9L321.8 1321.4L322.4 1320.9M331.5 1313h0M339.5 1303.1h0M346.2 1292.9L351 1284.5M356.1 1275.2h0M361.2 1265.3h0M366.4 1255.1L368.6 1250.7L370.6 1246.7M375.3 1237.3h0M380.5 1227.5h0M386.1 1217.2L390.9 1208.8M396.7 1199.5h0M403.5 1189.6h0M411.5 1179.4L415.3 1174.9L419.2 1171M428.5 1162.7h0M438.4 1155.6h0M448.7 1150.2L454.3 1147.8L457 1146.9M466.4 1144.1h0M476.3 1142h0M486.5 1140.7L493.3 1140.2L494.9 1140.2M504.2 1140.3h0M514.1 1140.9h0M524.3 1142.4L524.4 1142.4L532.2 1144.1L532.7 1144.3M542.1 1147.2h0M552 1151.4h0M562.2 1157.2L563.4 1158L570.6 1163.3M579.8 1171.8h0M588.6 1181.7h0M596.4 1191.9L602.1 1200.3M607.7 1209.7h0M613.4 1219.5h0M618.9 1229.8L623.2 1238.2M628 1247.5h0M632.9 1257.4h0M638.1 1267.6L641.3 1273.9L642.5 1276M647.6 1285.3h0M653.5 1295.2h0M660.4 1305.5L664.7 1311.1L667.5 1313.8M676.8 1321.3h0M686.7 1325.3h0M696.9 1325.6L703.7 1324.4L705.3 1323.9M714.6 1320.9h0M724.5 1317.6h0M734.8 1314.8L734.9 1314.8L742.6 1313.4L743.1 1313.4M752.5 1312.8h0M762.4 1313.3h0M772.6 1314.8L773.8 1315L781 1316.4M790.3 1318.5h0M800.2 1320.7h0M810.4 1322.7L812.8 1323.1L818.8 1324M828.2 1325h0M838.1 1325.6h0M848.3 1325.9L851.7 1326L856.7 1326M882.9 1326L890.7 1325.9L891.3 1325.9M900.6 1325.7h0"/>
</g>
<path class="c" stroke="#000" d="M148.8 862.9H256.2"/>
<text class="g" transform="translate(269.7 880.1) scale(1.08 1.03)" font-size="40.3" stroke="#000" stroke-width="0.25">ω</text>
<text class="s" transform="translate(299.2 898.7) scale(1 1.07)">0</text>
<path class="c" stroke="#f00" d="M148.8 939.3L158.4 939.3M174.2 939.3L183.8 939.3M199.4 939.3L209.1 939.3M224.8 939.3L234.3 939.3M250.1 939.3L256.2 939.3"/>
<text class="g" transform="translate(269.7 956.5) scale(1.08 1.03)" font-size="40.3" stroke="#000" stroke-width="0.25">ω</text>
<text class="s" transform="translate(299.2 975.1) scale(1 1.07)">1</text>
<path class="c" stroke="#00f" d="M148.8 1015.7h0M164.2 1015.7h0M179.7 1015.7h0M195.1 1015.7h0M210.4 1015.7h0M225.8 1015.7h0M241.2 1015.7h0"/>
<text class="g" transform="translate(269.7 1032.9) scale(1.08 1.03)" font-size="40.3" stroke="#000" stroke-width="0.25">ω</text>
<text class="s" transform="translate(299.2 1051.5) scale(1 1.07)">2</text>
<path class="c" stroke="#008080" d="M148.8 1092.1L160.4 1092.1M170.2 1092.1h0M180.3 1092.1L191.9 1092.1M201.7 1092.1h0M211.8 1092.1L223.4 1092.1M233.2 1092.1h0M243.3 1092.1L254.9 1092.1"/>
<text class="g" transform="translate(269.7 1109.3) scale(1.08 1.03)" font-size="40.3" stroke="#000" stroke-width="0.25">ω</text>
<text class="s" transform="translate(299.2 1127.9) scale(1 1.07)">3</text>
<path class="c" stroke="#f0f" d="M148.8 1168.5L157.2 1168.5M166.6 1168.5h0M176.5 1168.5h0M186.8 1168.5L195.1 1168.5M204.5 1168.5h0M214.4 1168.5h0M224.6 1168.5L233 1168.5M242.4 1168.5h0M252.3 1168.5h0"/>
<text class="g" transform="translate(269.7 1185.7) scale(1.08 1.03)" font-size="40.3" stroke="#000" stroke-width="0.25">ω</text>
<text class="s" transform="translate(299.2 1204.3) scale(1 1.07)">4</text>
<rect x="411.9" y="768.4" width="193.4" height="74.2" fill="#fff" stroke="#000" stroke-width="1.7"/>
<text class="g" transform="translate(418.3 817.2) scale(1.13 1)" font-size="42.3" stroke="#000" stroke-width="0.5">κ</text>
<text class="s" transform="translate(440.8 836.1) scale(1 1.07)">2</text>
<text class="a" transform="translate(456.9 817.2) scale(1 1.04)" font-size="48">/</text>
<text class="g" transform="translate(470.1 817.2) scale(1.13 1)" font-size="42.3" stroke="#000" stroke-width="0.5">κ</text>
<text class="s" transform="translate(494.2 836.1) scale(1 1.07)">1</text>
<text class="a" transform="translate(508.9 817.2) scale(1 1.04)" font-size="48">=1.5</text>
<text class="a" transform="translate(838.2 825) scale(1 1.01)" font-size="49.5">(c)</text>
</g>
<g id="panel-d">
<clipPath id="cpd"><rect x="1048" y="725.8" width="781.6" height="602.2"/></clipPath>
<rect class="ax" x="1049" y="727.8" width="779.6" height="598.2"/>
<path class="tk" d="M1049 1326v11.7M1087.98 1326v6.4M1126.96 1326v11.7M1165.94 1326v6.4M1204.92 1326v11.7M1243.9 1326v6.4M1282.88 1326v11.7M1321.86 1326v6.4M1360.84 1326v11.7M1399.82 1326v6.4M1438.8 1326v11.7M1477.78 1326v6.4M1516.76 1326v11.7M1555.74 1326v6.4M1594.72 1326v11.7M1633.7 1326v6.4M1672.68 1326v11.7M1711.66 1326v6.4M1750.64 1326v11.7M1789.62 1326v6.4M1828.6 1326v11.7M1049 1326h-11.7M1049 1266.18h-6.4M1049 1206.36h-11.7M1049 1146.54h-6.4M1049 1086.72h-11.7M1049 1026.9h-6.4M1049 967.08h-11.7M1049 907.26h-6.4M1049 847.44h-11.7M1049 787.62h-6.4M1049 727.8h-11.7"/>
<text class="t" transform="translate(1049 1373.7) scale(1 1.04)" text-anchor="middle">0</text>
<text class="t" transform="translate(1126.96 1373.7) scale(1 1.04)" text-anchor="middle">1</text>
<text class="t" transform="translate(1204.92 1373.7) scale(1 1.04)" text-anchor="middle">2</text>
<text class="t" transform="translate(1282.88 1373.7) scale(1 1.04)" text-anchor="middle">3</text>
<text class="t" transform="translate(1360.84 1373.7) scale(1 1.04)" text-anchor="middle">4</text>
<text class="t" transform="translate(1438.8 1373.7) scale(1 1.04)" text-anchor="middle">5</text>
<text class="t" transform="translate(1516.76 1373.7) scale(1 1.04)" text-anchor="middle">6</text>
<text class="t" transform="translate(1594.72 1373.7) scale(1 1.04)" text-anchor="middle">7</text>
<text class="t" transform="translate(1672.68 1373.7) scale(1 1.04)" text-anchor="middle">8</text>
<text class="t" transform="translate(1750.64 1373.7) scale(1 1.04)" text-anchor="middle">9</text>
<text class="t" transform="translate(1828.6 1373.7) scale(1 1.04)" text-anchor="middle">10</text>
<text class="t" transform="translate(1029 1335.3) scale(1 1.04)" text-anchor="end">0.0</text>
<text class="t" transform="translate(1029 1215.66) scale(1 1.04)" text-anchor="end">0.2</text>
<text class="t" transform="translate(1029 1096.02) scale(1 1.04)" text-anchor="end">0.4</text>
<text class="t" transform="translate(1029 976.38) scale(1 1.04)" text-anchor="end">0.6</text>
<text class="t" transform="translate(1029 856.74) scale(1 1.04)" text-anchor="end">0.8</text>
<text class="t" transform="translate(1029 737.1) scale(1 1.04)" text-anchor="end">1.0</text>
<text class="g" x="1438.8" y="1422" font-size="44" text-anchor="middle" stroke="#000" stroke-width="0.4">ξ</text>
<text class="a" transform="translate(973.6 1349.5) rotate(-90) scale(1 1.04)" font-size="48">Relative photon numbers</text>
<text class="a" transform="translate(973.6 804.2) rotate(-90) skewX(-21) scale(1 1.04)" font-size="48">N</text>
<g clip-path="url(#cpd)">
<path class="c k" stroke="#000" d="M1049 727.8L1056.8 729L1064.6 732.4L1072.4 737.7L1080.2 744.2L1088 751.3L1095.8 758.1L1103.6 763.9L1111.4 767.9L1119.2 769.6L1127 768.8L1134.8 765.6L1142.6 760.5L1150.3 754.4L1158.1 748.7L1165.9 745L1173.7 745L1181.5 750.4L1189.3 762.2L1197.1 780.4L1204.9 804.1L1212.7 831.7L1220.5 860.7L1228.3 888.6L1236.1 913.1L1243.9 932.4L1251.7 945.1L1259.5 950.3L1267.3 947.7L1275.1 937.6L1282.9 920.9L1290.7 899.6L1298.5 877.4L1306.3 859.7L1314.1 852.9L1321.9 863.6L1329.7 896.2L1337.5 950.4L1345.2 1021.3L1353 1099.7L1360.8 1175.9L1368.6 1241.1L1376.4 1289.8L1384.2 1318.4L1392 1325.7L1399.8 1311.3L1407.6 1275.8L1415.4 1221.3L1423.2 1151.6L1431 1073.7L1438.8 996.6L1446.6 930.4L1454.4 882.9L1462.2 857.8L1470 853.5L1477.8 864.6L1485.6 884.6L1493.4 906.9L1501.2 927L1509 941.7L1516.8 949.4L1524.6 949.4L1532.4 941.7L1540.1 926.7L1547.9 905.6L1555.7 879.7L1563.5 851.2L1571.3 822.4L1579.1 795.8L1586.9 773.7L1594.7 757.6L1602.5 748L1610.3 744.5L1618.1 745.9L1625.9 750.4L1633.7 756.5L1641.5 762.4L1649.3 766.9L1657.1 769.3L1664.9 769.3L1672.7 766.8L1680.5 762.1L1688.3 756L1696.1 749L1703.9 742L1711.7 735.8L1719.5 731.1L1727.3 728.3L1735 727.9L1742.8 729.9L1750.6 734L1758.4 739.7L1766.2 746.6L1774 753.6L1781.8 760.2L1789.6 765.4L1797.4 768.7L1805.2 769.6L1813 768L1820.8 764.1L1828.6 758.6"/>
<path class="c" stroke="#f00" d="M1049 1302.1L1056.8 1302.8L1058.6 1303.3M1074.3 1308.9L1080.2 1311.9L1083.8 1313.9M1099.5 1321.7L1103.6 1323.4L1109.1 1324.8M1124.8 1325L1127 1324.6L1134.4 1321.5M1150 1309.7L1150.3 1309.5L1158.1 1301.6L1159.6 1300.2M1175 1285.2L1181.5 1280.3L1184.6 1279M1200.2 1277.9L1204.9 1279.7L1209.8 1283.4M1224.7 1298.4L1228.3 1302.6L1233.1 1308M1248.3 1321.9L1251.7 1324.2M1267.3 1323.6L1275.1 1316.1L1276.1 1314.3M1284.6 1298.6L1288.5 1289M1293.9 1273.3L1296.8 1263.7M1301.2 1248.1L1303.8 1238.5M1307.8 1222.8L1310.1 1213.2M1314 1197.5L1314.1 1197.3L1316.5 1188M1320.5 1172.3L1321.9 1167.1L1323.2 1162.7M1328.1 1147L1329.7 1142.2L1331.9 1137.4M1341.2 1122L1345.2 1118.1L1350.7 1118.7M1365.8 1131L1368.6 1134.1L1374.9 1140.6M1390.6 1148.6L1392 1148.8L1399.8 1146.1L1400.1 1145.8M1415.1 1131.5L1415.4 1131.2L1423.2 1122.9L1424.2 1122.3M1439.6 1120.6L1446.6 1129.9L1446.7 1130.2M1452.9 1145.8L1454.4 1149.6L1456.1 1155.4M1460.6 1171.1L1462.2 1176.7L1463.2 1180.7M1467.1 1196.4L1469.5 1205.9M1473.4 1221.6L1475.8 1231.2M1479.9 1246.9L1482.6 1256.5M1487.2 1272.1L1490.4 1281.7M1496.5 1297.4L1500.8 1307M1512.5 1321.7L1516.8 1324.9L1522.1 1325.5M1537.8 1318.6L1540.1 1316.7L1547.1 1309.5M1560.8 1293.8L1563.5 1290.8L1570 1284.6M1585.7 1276.7L1586.9 1276.4L1594.7 1277.7L1595.3 1278M1611 1289.1L1618.1 1296.2L1620.5 1298.7M1635.9 1313.6L1641.5 1318.1L1645.5 1320.5M1661.2 1325.7L1664.9 1326L1670.8 1325.2M1686.5 1319.6L1688.3 1318.8L1696.1 1314.7M1711.7 1306.8L1719.5 1304L1721.3 1303.6M1737 1302.4L1742.8 1303.3L1746.6 1304.5M1762.3 1311.2L1766.2 1313.3L1771.8 1316.3M1787.5 1323.4L1789.6 1324.2L1797.1 1325.7M1812.8 1323.8L1813 1323.8L1820.8 1319.9L1822.4 1318.7"/>
<path class="c" stroke="#00f" d="M1049 1326h0M1064.4 1325.1h0M1079.8 1323.5h0M1095.1 1322.7h0M1110.5 1323.8h0M1125.9 1325.6h0M1141.3 1325.4h0M1156.6 1320.6h0M1172 1310.9h0M1187.4 1300.3h0M1202.8 1294.8h0M1218.1 1298.4h0M1233.5 1309.2h0M1248.9 1320.9h0M1264.3 1325.5h0M1278.8 1316.4h0M1288.3 1301.1h0M1294.6 1285.7h0M1300 1270.3h0M1304.6 1254.9h0M1308.9 1239.6h0M1313 1224.2h0M1317.1 1208.8h0M1321.2 1193.4h0M1325.8 1178.1h0M1330.9 1162.7h0M1337.5 1147.3h0M1350.9 1136.2h0M1366.3 1144.1h0M1381.6 1155.5h0M1397 1156.7h0M1412.4 1146.4h0M1427.8 1136.5h0M1441.5 1144.2h0M1449.2 1159.6h0M1454.8 1174.9h0M1459.3 1190.3h0M1463.6 1205.7h0M1467.7 1221.1h0M1471.8 1236.5h0M1476 1251.8h0M1480.6 1267.2h0M1485.5 1282.6h0M1491.7 1298h0M1500 1313.3h0M1514.6 1325.1h0M1530 1322.4h0M1545.4 1311.3h0M1560.7 1299.9h0M1576.1 1294.8h0M1591.5 1298.9h0M1606.9 1309.1h0M1622.2 1319.2h0M1637.6 1324.9h0M1653 1325.7h0M1668.4 1324.1h0M1683.8 1322.8h0M1699.1 1323.3h0M1714.5 1324.9h0M1729.9 1325.9h0M1745.3 1325.4h0M1760.6 1323.8h0M1776 1322.8h0M1791.4 1323.5h0M1806.8 1325.3h0M1822.1 1325.7h0"/>
<path class="c" stroke="#008080" d="M1049 1326L1056.8 1325.1L1060.6 1323.7M1070.3 1319.3h0M1080.5 1312.9L1088 1307.8L1092 1305.2M1101.8 1299.7h0M1111.9 1296.3L1119.2 1295.8L1123.5 1296.6M1133.2 1299.9h0M1143.4 1306L1150.3 1311.3L1154.9 1314.8M1164.7 1321.6h0M1174.8 1325.5L1181.5 1325.7L1186.4 1323.6M1196.1 1316.2h0M1204 1306.1L1204.9 1304.9L1211.3 1294.5M1217 1284.8h0M1222.8 1274.7L1228.3 1265.1L1229.6 1263.1M1235.9 1253.3h0M1244.4 1243.3L1251.7 1237.7L1256 1236.7M1265.7 1237.7h0M1275.6 1245.9L1282.9 1256.3L1283.5 1257.4M1288.6 1267.2h0M1293.5 1277.3L1298.5 1288.3L1298.8 1288.9M1303.2 1298.6h0M1308.3 1308.8L1314.1 1318.8L1315.6 1320.2M1325.3 1324.5h0M1333.1 1317.3L1337.5 1310L1339 1305.7M1342.4 1295.9h0M1345.9 1285.8L1349.2 1274.2M1352 1264.5h0M1354.8 1254.4L1358 1242.8M1360.6 1233h0M1363.7 1222.9L1367.3 1211.3M1370.8 1201.6h0M1374.8 1191.4L1376.4 1187.5L1381.6 1179.9M1390 1173.7h0M1400 1179.1L1406.3 1190.7M1410.3 1200.4h0M1413.9 1210.5L1415.4 1214.7L1417.6 1222.1M1420.4 1231.9h0M1423.4 1242L1426.5 1253.6M1429.2 1263.3h0M1432 1273.4L1435.5 1285M1438.4 1294.8h0M1442.4 1304.9L1446.6 1315.4L1447.5 1316.5M1455.5 1325h0M1465.1 1320.9L1470 1314.9L1472.9 1309.3M1477.9 1299.6h0M1482.5 1289.4L1485.6 1282.5L1487.8 1277.9M1492.4 1268.1h0M1497.9 1258L1501.2 1252.2L1505.7 1246.4M1514.6 1238.4h0M1524.7 1236L1532.4 1239.3L1536.3 1242.9M1544.6 1252.4h0M1551.5 1262.5L1555.7 1269.4L1558.4 1274.1M1563.9 1283.8h0M1569.8 1294L1571.3 1296.7L1577.1 1305.5M1584.7 1315.3h0M1594.4 1323.6L1594.7 1323.8L1602.5 1326L1606 1325.4M1615.7 1322.1h0M1625.8 1315.4L1625.9 1315.4L1633.7 1309.3L1637.4 1306.6M1647.1 1300.4h0M1657.3 1296.5L1664.9 1295.7L1668.9 1296.4M1678.6 1299.3h0M1688.7 1304.7L1696.1 1309.5L1700.3 1312.4M1710.1 1318.7h0M1720.2 1323.6L1727.3 1325.6L1731.8 1325.8M1741.5 1324.6h0M1751.6 1320.5L1758.4 1316.6L1763.2 1313.4M1773 1306.8h0M1783.1 1300.8L1789.6 1297.8L1794.7 1296.6M1804.4 1296h0M1814.5 1298.9L1820.8 1302L1826.1 1305.6"/>
<path class="c" stroke="#f0f" d="M1064.6 1326L1072.4 1325.8L1073 1325.8M1082.3 1325.3h0M1092.2 1324.5h0M1102.4 1323.2L1103.6 1323L1110.8 1321.9M1120.2 1320.7h0M1130 1320h0M1140.3 1320.1L1142.6 1320.3L1148.7 1321.1M1158 1322.9h0M1167.9 1324.9h0M1178.1 1325.8L1181.5 1325.8L1186.5 1324.8M1195.8 1320.9h0M1205.7 1313.3h0M1215.1 1303.1L1220.5 1296.5L1221.9 1294.7M1229.3 1285.3h0M1237.7 1275.4h0M1247.7 1266.1L1251.7 1263.1L1256.1 1261.4M1265.5 1260.2h0M1275.3 1264.3h0M1284.8 1274.2L1290.7 1282.3L1290.9 1282.6M1296.4 1292h0M1302.2 1301.8h0M1308.5 1312.1L1314.1 1320L1314.5 1320.3M1323.9 1325.2h0M1332.5 1319.3h0M1338.6 1309.1L1342 1300.7M1345.6 1291.4h0M1348.7 1281.5h0M1352 1271.3L1353 1267.9L1354.5 1262.9M1357.4 1253.5h0M1360.4 1243.7h0M1363.7 1233.4L1366.6 1225M1370 1215.7h0M1374.3 1205.8h0M1380.4 1195.6L1384.2 1190.3L1387.3 1189.2M1396.6 1190.7h0M1403.8 1199.6h0M1409.1 1209.9L1412.4 1218.3M1415.9 1227.6h0M1419.1 1237.5h0M1422.3 1247.7L1423.2 1250.4L1424.9 1256.1M1427.7 1265.4h0M1430.7 1275.3h0M1434.1 1285.6L1436.9 1293.9M1440.5 1303.3h0M1445 1313.2h0M1452.7 1323.4L1454.4 1325.2L1461 1324.7M1470.1 1316.5h0M1476.4 1306.6h0M1482.4 1296.4L1485.6 1290.9L1487.4 1288M1493.2 1278.7h0M1501.1 1268.8h0M1511.3 1261.6L1516.8 1259.8L1519.7 1260.1M1529 1263.1h0M1538.9 1270.4h0M1548.2 1280.5L1555 1288.9M1562.4 1298.2h0M1570.7 1308.1h0M1580.8 1317.6L1586.9 1321.8L1589.2 1322.7M1598.6 1325.5h0M1608.5 1325.6h0M1618.7 1323.9L1625.9 1322.4L1627.1 1322.2M1636.4 1320.6h0M1646.3 1319.9h0M1656.5 1320.2L1657.1 1320.2L1664.9 1321.1L1664.9 1321.1M1674.3 1322.4h0M1684.1 1323.8h0M1694.4 1325L1696.1 1325.1L1702.8 1325.6M1712.1 1325.9h0M1742.8 1326L1750.6 1325.9L1751.2 1325.9M1760.6 1325.6h0M1770.5 1325h0M1780.7 1323.9L1781.8 1323.7L1789.1 1322.7M1798.4 1321.3h0M1808.3 1320.3h0M1818.5 1319.9L1820.8 1319.9L1826.9 1320.4"/>
</g>
<path class="c" stroke="#000" d="M1062.4 891.5H1169.5"/>
<text class="g" transform="translate(1183.3 908.7) scale(1.08 1.03)" font-size="40.3" stroke="#000" stroke-width="0.25">ω</text>
<text class="s" transform="translate(1212.8 927.3) scale(1 1.07)">0</text>
<path class="c" stroke="#f00" d="M1062.4 967.9L1072 967.9M1087.7 967.9L1097.3 967.9M1113 967.9L1122.6 967.9M1138.3 967.9L1147.9 967.9M1163.6 967.9L1169.5 967.9"/>
<text class="g" transform="translate(1183.3 985.1) scale(1.08 1.03)" font-size="40.3" stroke="#000" stroke-width="0.25">ω</text>
<text class="s" transform="translate(1212.8 1003.7) scale(1 1.07)">1</text>
<path class="c" stroke="#00f" d="M1062.4 1044.3h0M1077.8 1044.3h0M1093.2 1044.3h0M1108.6 1044.3h0M1124 1044.3h0M1139.4 1044.3h0M1154.8 1044.3h0"/>
<text class="g" transform="translate(1183.3 1061.5) scale(1.08 1.03)" font-size="40.3" stroke="#000" stroke-width="0.25">ω</text>
<text class="s" transform="translate(1212.8 1080.1) scale(1 1.07)">2</text>
<path class="c" stroke="#008080" d="M1062.4 1120.7L1074 1120.7M1083.7 1120.7h0M1093.9 1120.7L1105.5 1120.7M1115.2 1120.7h0M1125.4 1120.7L1137 1120.7M1146.7 1120.7h0M1156.9 1120.7L1168.5 1120.7"/>
<text class="g" transform="translate(1183.3 1137.9) scale(1.08 1.03)" font-size="40.3" stroke="#000" stroke-width="0.25">ω</text>
<text class="s" transform="translate(1212.8 1156.5) scale(1 1.07)">3</text>
<path class="c" stroke="#f0f" d="M1062.4 1197.1L1070.8 1197.1M1080.1 1197.1h0M1090 1197.1h0M1100.3 1197.1L1108.7 1197.1M1118 1197.1h0M1127.9 1197.1h0M1138.2 1197.1L1146.6 1197.1M1155.9 1197.1h0M1165.8 1197.1h0"/>
<text class="g" transform="translate(1183.3 1214.3) scale(1.08 1.03)" font-size="40.3" stroke="#000" stroke-width="0.25">ω</text>
<text class="s" transform="translate(1212.8 1232.9) scale(1 1.07)">4</text>
<rect x="1302.6" y="746.6" width="154.4" height="74.3" fill="#fff" stroke="#000" stroke-width="1.7"/>
<text class="g" transform="translate(1309.6 795.1) scale(1.13 1)" font-size="42.3" stroke="#000" stroke-width="0.5">κ</text>
<text class="s" transform="translate(1332.1 814) scale(1 1.07)">2</text>
<text class="a" transform="translate(1348.2 795.1) scale(1 1.04)" font-size="48">/</text>
<text class="g" transform="translate(1361.4 795.1) scale(1.13 1)" font-size="42.3" stroke="#000" stroke-width="0.5">κ</text>
<text class="s" transform="translate(1385.5 814) scale(1 1.07)">1</text>
<text class="a" transform="translate(1400.2 795.1) scale(1 1.04)" font-size="48">=2</text>
<text class="a" transform="translate(1757 840.1) scale(1 1.01)" font-size="49.5">(d)</text>
</g>
</svg></body></html>
